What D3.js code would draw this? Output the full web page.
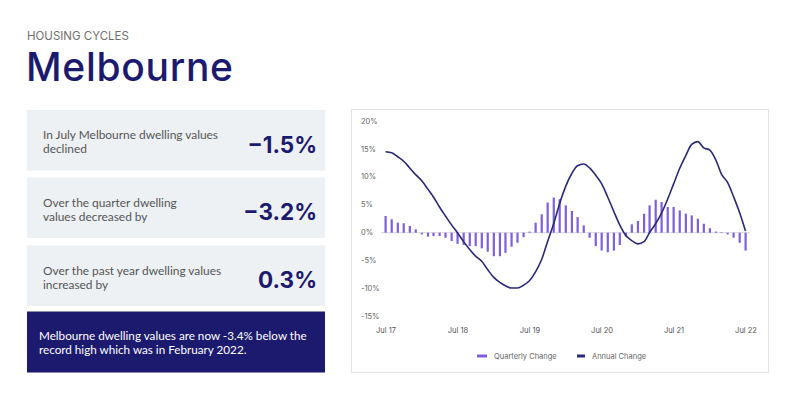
<!DOCTYPE html>
<html>
<head>
<meta charset="utf-8">
<script src="https://cdn.jsdelivr.net/npm/d3@7"></script>
<style>
  body { margin: 0; background: #fff; }
  svg { display: block; }
</style>
</head>
<body>
<div id="chart"></div>
<script>
// monthly data, Jul 17 .. Jul 22
const months = d3.range(61).map(i => new Date(2017, 6 + i, 1))

const quarterly = [3.0, 2.4, 1.8, 1.7, 1.2, 0.6, -0.3, -0.7, -0.6, -0.6, -0.9, -1.5,
    -2.0, -2.2, -2.4, -2.4, -2.8, -3.4, -4.2, -4.2, -3.6, -2.5, -1.8, -0.8,
    0.2, 1.8, 3.3, 5.4, 6.3, 6.0, 4.9, 3.9, 2.8, 1.3, -0.9, -2.4,
    -3.2, -3.5, -3.2, -2.2, -0.7, 1.5, 2.1, 3.4, 4.9, 5.9, 5.5, 4.6,
    4.6, 4.0, 3.4, 3.1, 2.5, 1.6, 0.8, 0.2, 0.1, -0.3, -0.9, -1.8, -3.2]

const annual = [14.5, 14.3, 13.6, 12.8, 11.6, 10.4, 9.3, 7.8, 6.4, 4.6, 3.0, 1.4,
    0.0, -1.6, -3.0, -4.2, -5.1, -6.6, -8.0, -8.9, -9.5, -9.9, -9.9, -9.4,
    -8.6, -7.0, -4.8, -1.6, 1.6, 5.2, 8.3, 10.6, 12.0, 12.3, 11.6, 10.3,
    8.8, 6.4, 3.8, 1.4, -0.5, -1.4, -2.0, -1.6, 0.0, 1.6, 3.5, 6.0,
    8.7, 11.5, 13.8, 15.8, 16.3, 15.2, 14.8, 13.0, 10.5, 9.0, 6.5, 3.6, 0.3]

const yTicks = [20, 15, 10, 5, 0, -5, -10, -15]
const xTicks = [new Date(2017, 6, 1), new Date(2018, 6, 1), new Date(2019, 6, 1),
    new Date(2020, 6, 1), new Date(2021, 6, 1), new Date(2022, 6, 1)]

const panels = [
    { lines: ["In July Melbourne dwelling values", "declined"], value: "-1.5%" },
    { lines: ["Over the quarter dwelling", "values decreased by"], value: "-3.2%" },
    { lines: ["Over the past year dwelling values", "increased by"], value: "0.3%" }
]
const note = ["Melbourne dwelling values are now -3.4% below the", "record high which was in February 2022."]
const legendItems = ["Quarterly Change", "Annual Change"]

const width = 800
const height = 397
const navy = "#1c1a6e"
const barColor = "#7d5fe0"
const lineColor = "#2a2878"

const svg = d3.select("#chart")
    .append("svg")
    .attr("width", width)
    .attr("height", height)

// header
svg.append("text")
    .attr("x", 27).attr("y", 40)
    .attr("font-family", "Inter, sans-serif")
    .attr("font-size", 11.5)
    .attr("fill", "#6f6f6f")
    .text("HOUSING CYCLES")

svg.append("text")
    .attr("x", 26).attr("y", 81)
    .attr("font-family", "Inter, sans-serif")
    .attr("font-weight", 500)
    .attr("font-size", 39)
    .attr("fill", navy)
    .attr("textLength", 207)
    .text("Melbourne")

// left stat panels
const panelTop = [110, 177.5, 245.5]
panels.forEach((p, i) => {
    const g = svg.append("g").attr("transform", `translate(27, ${panelTop[i]})`)
    g.append("rect")
        .attr("width", 298).attr("height", 60.5)
        .attr("fill", "#edf1f4")
    g.selectAll("text.lbl")
        .data(p.lines)
        .join("text")
        .attr("class", "lbl")
        .attr("x", 16)
        .attr("y", (d, j) => 29 + j * 14.2)
        .attr("font-family", "Lato, sans-serif")
        .attr("font-size", 11.9)
        .attr("fill", "#555")
        .text(d => d)
    g.append("text")
        .attr("x", 290).attr("y", 42.5)
        .attr("text-anchor", "end")
        .attr("font-family", "Inter, sans-serif")
        .attr("font-weight", 700)
        .attr("font-size", 22.5)
        .attr("fill", navy)
        .text(p.value.replace("-", "\u2212"))
})

const noteG = svg.append("g").attr("transform", "translate(27, 311.5)")
noteG.append("rect")
    .attr("width", 298).attr("height", 61)
    .attr("fill", navy)
noteG.selectAll("text")
    .data(note)
    .join("text")
    .attr("x", 12)
    .attr("y", (d, j) => 28 + j * 14)
    .attr("font-family", "Lato, sans-serif")
    .attr("font-size", 11.7)
    .attr("fill", "#fff")
    .text(d => d)

// chart box
svg.append("rect")
    .attr("x", 351.5).attr("y", 109.5)
    .attr("width", 417).attr("height", 263)
    .attr("fill", "#fff")
    .attr("stroke", "#e3e3e3")

const x = d3.scaleTime()
    .domain([months[0], months[60]])
    .range([385.5, 745.5])
const y = d3.scaleLinear()
    .domain([-15, 20])
    .range([316.5, 121])

// y labels
svg.selectAll("text.ytick")
    .data(yTicks)
    .join("text")
    .attr("class", "ytick")
    .attr("x", 361)
    .attr("y", d => y(d))
    .attr("dy", "0.35em")
    .attr("font-family", "Inter, sans-serif")
    .attr("font-size", 7.5)
    .attr("fill", "#666")
    .text(d => d + "%")

// x axis
const xAxis = d3.axisBottom(x)
    .tickValues(xTicks)
    .tickFormat(d3.timeFormat("Jul %y"))
    .tickSize(0)
    .tickPadding(0)

svg.append("g")
    .attr("transform", "translate(0, 330)")
    .call(xAxis)
    .call(g => g.select(".domain").remove())
    .call(g => g.selectAll("text")
        .attr("dy", "0.35em")
        .attr("font-family", "Inter, sans-serif")
        .attr("font-size", 7.5)
        .attr("fill", "#555"))

// zero line
svg.append("line")
    .attr("x1", 381).attr("x2", 750)
    .attr("y1", y(0)).attr("y2", y(0))
    .attr("stroke", "#d6d6d6")
    .attr("stroke-width", 1)

// quarterly bars
svg.selectAll("rect.bar")
    .data(quarterly)
    .join("rect")
    .attr("class", "bar")
    .attr("x", (d, i) => x(months[i]) - 1)
    .attr("width", 2.2)
    .attr("y", d => y(Math.max(0, d)))
    .attr("height", d => Math.abs(y(d) - y(0)))
    .attr("fill", barColor)

// annual line
const line = d3.line()
    .x((d, i) => x(months[i]))
    .y(d => y(d))
    .curve(d3.curveMonotoneX)

svg.append("path")
    .datum(annual)
    .attr("fill", "none")
    .attr("stroke", lineColor)
    .attr("stroke-width", 1.6)
    .attr("stroke-linejoin", "round")
    .attr("d", line)

// legend
const legendX = [477, 577]
const legend = svg.selectAll("g.legend")
    .data(legendItems)
    .join("g")
    .attr("class", "legend")
    .attr("transform", (d, i) => `translate(${legendX[i]}, 356)`)
legend.append("rect")
    .attr("x", 0).attr("y", -1.5)
    .attr("width", d => d === "Quarterly Change" ? 10 : 8)
    .attr("height", 3)
    .attr("fill", (d, i) => i === 0 ? barColor : lineColor)
legend.append("text")
    .attr("x", (d, i) => i === 0 ? 17 : 15)
    .attr("dy", "0.35em")
    .attr("font-family", "Inter, sans-serif")
    .attr("font-size", 7.5)
    .attr("fill", "#666")
    .text(d => d)
</script>
</body>
</html>
